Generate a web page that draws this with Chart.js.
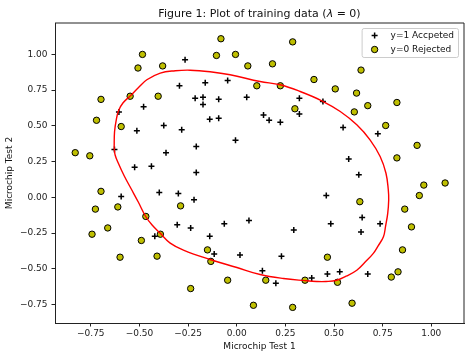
<!DOCTYPE html>
<html><head><meta charset="utf-8">
<script src="https://cdn.jsdelivr.net/npm/chart.js@4"></script>
<style>html,body{margin:0;padding:0;background:#fff}canvas{display:block}</style>
</head><body>
<canvas id="c" width="474" height="358"></canvas>
<script>
const acceptedX = [0.051267,-0.092742,-0.21371,-0.375,-0.51325,-0.52477,-0.39804,-0.30588,0.016705,0.13191,0.38537,0.52938,0.63882,0.73675,0.54666,0.322,0.16647,-0.046659,-0.17339,-0.47869,-0.60541,-0.62846,-0.59389,-0.42108,-0.11578,0.20104,0.46601,0.67339,-0.13882,-0.29435,-0.26555,-0.16187,-0.17339,-0.28283,-0.36348,-0.30012,-0.23675,-0.06394,0.062788,0.22984,0.2932,0.48329,0.64459,0.46025,0.6273,0.57546,0.72523,0.22408,0.44297,0.322,0.13767,-0.0063364,-0.092742,-0.20795,-0.20795,-0.43836,-0.21947,-0.13882];
const acceptedY = [0.69956,0.68494,0.69225,0.50219,0.46564,0.2098,0.034357,-0.19225,-0.40424,-0.51389,-0.56506,-0.5212,-0.24342,-0.18494,0.48757,0.5826,0.53874,0.81652,0.69956,0.63377,0.59722,0.33406,0.005117,-0.27266,-0.39693,-0.60161,-0.53582,-0.53582,0.54605,0.77997,0.96272,0.8019,0.64839,0.47295,0.31213,0.027047,-0.21418,-0.18494,-0.16301,-0.41155,-0.2288,-0.18494,-0.14108,0.012427,0.15863,0.26827,0.44371,0.52412,0.67032,0.69225,0.57529,0.39985,0.55336,0.35599,0.17325,0.21711,-0.016813,-0.27266];
const rejectedX = [0.18376,0.22408,0.29896,0.50634,0.61578,0.60426,0.76555,0.92684,0.82316,0.96141,0.93836,0.86348,0.89804,0.85196,0.82892,0.79435,0.59274,0.51786,0.46601,0.35081,0.28744,0.085829,0.14919,-0.13306,-0.40956,-0.39228,-0.74366,-0.69758,-0.75518,-0.69758,-0.4038,-0.38076,-0.50749,-0.54781,0.10311,0.057028,-0.10426,-0.081221,0.28744,0.39689,0.63882,0.82316,0.67339,1.0709,-0.046659,-0.23675,-0.15035,-0.49021,-0.46717,-0.28859,-0.61118,-0.66302,-0.59965,-0.72638,-0.83007,-0.72062,-0.59389,-0.48445,-0.0063364,0.63265];
const rejectedY = [0.93348,0.77997,0.61915,0.75804,0.7288,0.59722,0.50219,0.3633,0.27558,0.085526,0.012427,-0.082602,-0.20687,-0.36769,-0.5212,-0.55775,-0.7405,-0.5943,-0.41886,-0.57968,-0.76974,-0.75512,-0.57968,-0.4481,-0.41155,-0.25804,-0.25804,0.041667,0.2902,0.68494,0.70687,0.91886,0.90424,0.70687,0.77997,0.91886,0.99196,1.1089,1.087,0.82383,0.88962,0.66301,0.64108,0.10015,-0.57968,-0.63816,-0.36769,-0.3019,-0.13377,-0.0599,-0.067251,-0.21418,-0.41886,-0.082602,0.31213,0.53874,0.49488,0.99927,0.99927,-0.030612];
// decision boundary (closed loop)
const boundaryX = [-0.630,-0.628,-0.619,-0.607,-0.584,-0.548,-0.506,-0.462,-0.393,-0.316,-0.239,-0.137,-0.034,0.120,0.223,0.326,0.437,0.532,0.617,0.685,0.737,0.767,0.779,0.781,0.776,0.765,0.754,0.726,0.702,0.660,0.617,0.562,0.514,0.459,0.411,0.351,0.240,0.120,0.001,-0.137,-0.274,-0.342,-0.393,-0.435,-0.467,-0.506,-0.542,-0.578,-0.609,-0.625,-0.630];
const boundaryY = [0.346,0.458,0.542,0.607,0.661,0.708,0.766,0.822,0.869,0.885,0.889,0.878,0.857,0.810,0.787,0.740,0.675,0.600,0.507,0.402,0.285,0.168,0.051,-0.019,-0.112,-0.201,-0.276,-0.341,-0.392,-0.453,-0.510,-0.552,-0.580,-0.589,-0.589,-0.583,-0.568,-0.540,-0.491,-0.435,-0.369,-0.320,-0.252,-0.194,-0.136,-0.033,0.058,0.149,0.240,0.296,0.346];
const xTicks = [-0.75,-0.5,-0.25,0,0.25,0.5,0.75,1.0];
const yTicks = [-0.75,-0.5,-0.25,0,0.25,0.5,0.75,1.0];
const titleParts = ['Figure 1: Plot of training data (', 'λ', ' = 0)'];
const xLabel = 'Microchip Test 1';
const yLabel = 'Microchip Test 2';
const acceptedLabel = 'y=1 Accpeted';
const rejectedLabel = 'y=0 Rejected';

const FONT = "'DejaVu Sans', sans-serif";
const zip = (xs, ys) => xs.map((x, i) => ({x, y: ys[i]}));
const fmt = v => v.toFixed(2).replace('-', '\u2212');

const extras = {
  id: 'extras',
  afterDraw(chart) {
    const {ctx, chartArea: a} = chart;
    ctx.save();
    // top/right spines
    ctx.strokeStyle = '#222'; ctx.lineWidth = 1;
    ctx.beginPath(); ctx.moveTo(a.left, a.top); ctx.lineTo(a.right, a.top); ctx.lineTo(a.right, a.bottom); ctx.stroke();
    // title
    ctx.fillStyle = '#111'; ctx.textBaseline = 'middle';
    const nf = '11px ' + FONT, itf = 'italic 11px ' + FONT;
    ctx.font = nf; const w0 = ctx.measureText(titleParts[0]).width, w2 = ctx.measureText(titleParts[2]).width;
    ctx.font = itf; const w1 = ctx.measureText(titleParts[1]).width;
    let tx = (a.left + a.right) / 2 - (w0 + w1 + w2) / 2;
    const ty = 14;
    ctx.textAlign = 'left';
    ctx.font = nf; ctx.fillText(titleParts[0], tx, ty); tx += w0;
    ctx.font = itf; ctx.fillText(titleParts[1], tx, ty); tx += w1;
    ctx.font = nf; ctx.fillText(titleParts[2], tx, ty);
    // legend
    ctx.font = '9px ' + FONT;
    const tw = Math.max(ctx.measureText(acceptedLabel).width, ctx.measureText(rejectedLabel).width);
    const right = a.right - 6, top = a.top + 5;
    const left = right - (29 + tw + 4), h = 29;
    ctx.beginPath();
    if (ctx.roundRect) ctx.roundRect(left + 0.5, top + 0.5, right - left, h, 2); else ctx.rect(left + 0.5, top + 0.5, right - left, h);
    ctx.fillStyle = 'rgba(255,255,255,0.8)'; ctx.fill();
    ctx.strokeStyle = '#cccccc'; ctx.lineWidth = 1; ctx.stroke();
    const mx = left + 13, r1 = top + 7.5, r2 = top + 21.5;
    ctx.strokeStyle = '#000'; ctx.lineWidth = 1.5;
    ctx.beginPath(); ctx.moveTo(mx - 3, r1); ctx.lineTo(mx + 3, r1); ctx.moveTo(mx, r1 - 3); ctx.lineTo(mx, r1 + 3); ctx.stroke();
    ctx.beginPath(); ctx.arc(mx, r2, 3.2, 0, Math.PI * 2); ctx.fillStyle = '#bfbf00'; ctx.fill(); ctx.lineWidth = 1; ctx.strokeStyle = '#000'; ctx.stroke();
    ctx.fillStyle = '#111'; ctx.textAlign = 'left'; ctx.textBaseline = 'middle';
    ctx.fillText(acceptedLabel, left + 29, r1);
    ctx.fillText(rejectedLabel, left + 29, r2);
    ctx.restore();
  }
};

new Chart(document.getElementById('c'), {
  type: 'scatter',
  data: {
    datasets: [
      { label: 'boundary', data: zip(boundaryX, boundaryY), showLine: true, borderColor: '#ff0000', borderWidth: 1.4, pointRadius: 0, tension: 0.4, fill: false, order: 0 },
      { label: acceptedLabel, data: zip(acceptedX, acceptedY), pointStyle: 'cross', pointRadius: 3, borderColor: '#000', borderWidth: 1.5, order: 1 },
      { label: rejectedLabel, data: zip(rejectedX, rejectedY), pointStyle: 'circle', pointRadius: 3.2, backgroundColor: '#bfbf00', borderColor: '#000', borderWidth: 1, order: 2 }
    ]
  },
  options: {
    responsive: false, animation: false, devicePixelRatio: 1,
    layout: { padding: { top: 23, right: 10, left: 0, bottom: 0 } },
    plugins: { legend: { display: false }, tooltip: { enabled: false }, title: { display: false } },
    scales: {
      x: {
        type: 'linear', min: -0.934, max: 1.168,
        afterFit: s => { s.height = 35; },
        afterBuildTicks: s => { s.ticks = xTicks.map(v => ({value: v})); },
        ticks: { callback: v => fmt(v), font: { family: FONT, size: 9 }, color: '#222', padding: 2, maxRotation: 0, autoSkip: false },
        grid: { drawOnChartArea: false, drawTicks: true, tickLength: 3.5, color: '#222' },
        border: { display: true, color: '#222', width: 1 },
        title: { display: true, text: xLabel, font: { family: FONT, size: 9 }, color: '#111', padding: { top: 0, bottom: 6 } }
      },
      y: {
        type: 'linear', min: -0.879, max: 1.219,
        afterFit: s => { s.width = 55; },
        afterBuildTicks: s => { s.ticks = yTicks.map(v => ({value: v})); },
        ticks: { callback: v => fmt(v), font: { family: FONT, size: 9 }, color: '#222', padding: 4, autoSkip: false },
        grid: { drawOnChartArea: false, drawTicks: true, tickLength: 3.5, color: '#222' },
        border: { display: true, color: '#222', width: 1 },
        title: { display: true, text: yLabel, font: { family: FONT, size: 9 }, color: '#111', padding: { top: 4, bottom: 0 } }
      }
    }
  },
  plugins: [extras]
});
</script>
</body></html>
